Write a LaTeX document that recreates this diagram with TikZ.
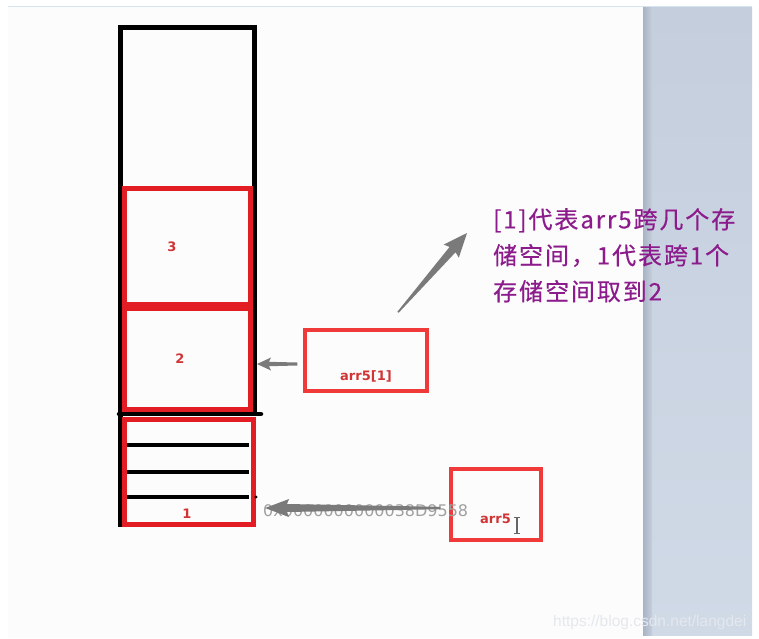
\documentclass[tikz,border=0pt]{standalone}
\usepackage{fontspec}
\setmainfont{DejaVu Sans}
\newfontfamily\cjk[LetterSpace=8,FakeBold=0.5]{Noto Sans CJK SC}
\newfontfamily\liber{Liberation Sans}
\usetikzlibrary{calc,arrows.meta}

\definecolor{boxred}{RGB}{226,30,36}
\definecolor{lightred}{RGB}{240,58,58}
\definecolor{lblred}{RGB}{208,52,52}
\definecolor{arrgray}{RGB}{122,122,122}
\definecolor{txtpurple}{RGB}{140,28,140}
\definecolor{addrgray}{RGB}{160,160,160}
\definecolor{panelA}{RGB}{196,206,221}
\definecolor{panelB}{RGB}{208,218,231}
\definecolor{panelS}{RGB}{168,180,196}
\definecolor{topline}{RGB}{214,228,238}
\definecolor{canvasbg}{RGB}{252,252,252}
\definecolor{wmark}{RGB}{228,232,237}

% tapered arrow: tail, tip, tail half-width, shaft half-width, head length, head half-width
\newcommand\taperarr[6]{%
  \coordinate (tpHB) at ($(#2)!#5!(#1)$);
  \coordinate (tpHN) at ($(#2)!#5+2pt!(#1)$);
  \fill[arrgray] ($(#1)!#3!90:(#2)$) -- ($(tpHB)!#4!90:(#2)$) -- ($(tpHN)!#6!90:(#2)$)
     -- (#2) -- ($(tpHN)!#6!-90:(#2)$) -- ($(tpHB)!#4!-90:(#2)$)
     -- ($(#1)!#3!-90:(#2)$) -- cycle;}

\begin{document}
\begin{tikzpicture}[x=1pt,y=-1pt,
  cellbox/.style={draw=boxred,line width=5pt,inner sep=0pt},
  varbox/.style={draw=lightred,line width=3.5pt,inner sep=0pt},
  lbl/.style={text=lblred,inner sep=0pt,font=\bfseries\fontsize{13}{13}\selectfont},
  blackline/.style={draw=black,line width=5pt}]
\useasboundingbox (0,0) rectangle (759,638);
% background
\fill[white] (0,0) rectangle (759,638);
\fill[canvasbg] (8,7) rectangle (643,638);
\shade[top color=panelA,bottom color=panelB] (643,7) rectangle (752,635);
\shade[left color=panelS,right color=panelA] (643,7) rectangle (652,635);
\draw[topline,line width=1.5pt] (8,6.5) -- (752,6.5);

% black column
\draw[blackline] (254,413) -- (254,27) -- (120,27) -- (120,527);

% red cells
\node[cellbox,minimum width=126pt,minimum height=116pt] (c3) at (187,246) {};
\node[cellbox,minimum width=126pt,minimum height=101.5pt] (c2) at (187,358.75) {};
\node[cellbox,minimum width=128.5pt,minimum height=105.5pt] (c1) at (188.75,471.75) {};

% black separators
\draw[black,line width=4.5pt,line cap=round] (119,414) -- (261,414);
\draw[black,line width=4pt] (127,445) -- (249,445);
\draw[black,line width=4pt] (127,472) -- (249,472);
\draw[black,line width=4pt] (127,497) -- (249,497);
\fill[black] (256,497) circle (1.6pt);

% labels in cells
\node[lbl] (l3) at (172,247) {3};
\node[lbl] (l2) at (180,359) {2};
\node[lbl] (l1) at (187,514) {1};

% variable boxes
\node[varbox,minimum width=122pt,minimum height=61pt] (a51) at (366,360.5) {};
\node[lbl] (a51l) at (366,376) {arr5[1]};
\node[varbox,minimum width=90pt,minimum height=71pt] (a5) at (496,504.5) {};
\node[lbl,anchor=west] (a5l) at (480,519) {arr5};

% cursor
\draw[black!60,line width=1.1pt] (517,518) -- (517,533);
\draw[black!60,line width=1pt] (514,517.5) -- (520,517.5) (514,533.5) -- (520,533.5);

% address text
\node[anchor=west,inner sep=0pt,text=addrgray,font=\fontsize{16}{16}\selectfont] (addr) at (263,511) {0x0000000000038D9558};

% note text
\node[anchor=north west,inner sep=0pt,text=txtpurple,align=left,
      font=\cjk\fontsize{24}{36}\selectfont] (note) at (493,208)
  {[1]代表arr5跨几个存\\储空间，1代表跨1个\\存储空间取到2};

% arrows
\coordinate (t1) at ($(a51.west)+(-6,3.5)$);
\coordinate (h1) at ($(c2.east)+(4.5,5.25)$);
\taperarr{t1}{h1}{1.5pt}{2.2pt}{12pt}{6.5pt}

\coordinate (t2) at ($(a5.west)+(-9,3.5)$);
\coordinate (h2) at ($(c1.east)+(9.5,36.25)$);
\taperarr{t2}{h2}{1.2pt}{4pt}{22pt}{9pt}

\coordinate (t3) at ($(a51.north)+(32,-16)$);
\coordinate (h3) at ($(note.north west)+(-26,25)$);
\taperarr{t3}{h3}{0.8pt}{4pt}{22pt}{10pt}

% watermark
\node[anchor=west,inner sep=0pt,text=wmark,font=\liber\fontsize{15.5}{15.5}\selectfont] (wm) at (553,622) {https://blog.csdn.net/langdei};
\end{tikzpicture}
\end{document}
